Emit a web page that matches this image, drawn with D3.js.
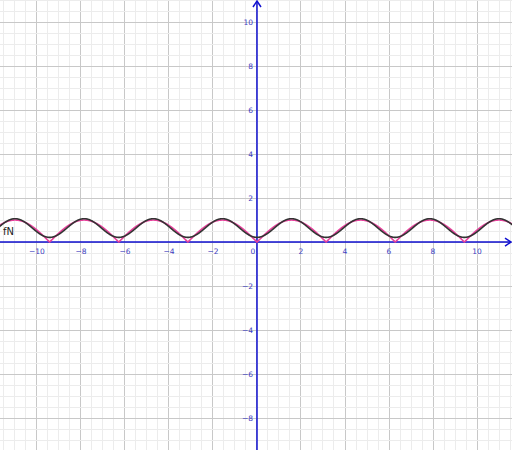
<!DOCTYPE html><html><head><script src="https://d3js.org/d3.v7.min.js"></script>
<style>body{margin:0;background:#fff}</style></head><body><svg id="c" width="512" height="450"></svg>
<script>
// Fourier partial sum fN of |sin x|: a0 + sum a_k cos(2k x)
const a0 = [0.63662];
const cosCoeffs = [-0.42441];
const xTicks = [-10,-8,-6,-4,-2,0,2,4,6,8,10];
const yTicks = [-8,-6,-4,-2,2,4,6,8,10];
const curveLabel = "fN";

const W=512,H=450;
const x=d3.scaleLinear().domain([-11.68,11.59]).range([0,W]);
const y=d3.scaleLinear().domain([11,-9.45]).range([0,H]);
const svg=d3.select("#c");
const g=svg.append("g");
for(let v=-12;v<=12;v+=0.5){const maj=Math.abs(v%2)<1e-9;
 g.append("line").attr("x1",x(v)).attr("x2",x(v)).attr("y1",0).attr("y2",H).attr("stroke",maj?"#c8c8c8":"#ececec").attr("stroke-width",1).attr("shape-rendering","crispEdges");}
for(let v=-10;v<=11.5;v+=0.5){const maj=Math.abs(v%2)<1e-9;
 g.append("line").attr("y1",y(v)).attr("y2",y(v)).attr("x1",0).attr("x2",W).attr("stroke",maj?"#c8c8c8":"#ececec").attr("stroke-width",1).attr("shape-rendering","crispEdges");}
const blue="#1010d0";
svg.append("line").attr("x1",0).attr("x2",W-2).attr("y1",y(0)).attr("y2",y(0)).attr("stroke",blue).attr("stroke-width",1.5);
svg.append("line").attr("x1",x(0)).attr("x2",x(0)).attr("y1",2).attr("y2",H).attr("stroke",blue).attr("stroke-width",1.5);
svg.append("path").attr("d",`M${W-7},${y(0)-4}L${W-1},${y(0)}L${W-7},${y(0)+4}`).attr("fill","none").attr("stroke",blue).attr("stroke-width",1.5);
svg.append("path").attr("d",`M${x(0)-4},7L${x(0)},1L${x(0)+4},7`).attr("fill","none").attr("stroke",blue).attr("stroke-width",1.5);
xTicks.forEach(t=>{svg.append("text").attr("x",x(t)+(t===0?-4:0)).attr("y",y(0)+12).attr("text-anchor","middle").attr("font-family","DejaVu Sans").attr("font-size",7.5).attr("fill","#4040c0").text(t<0?"\u2212"+(-t):t);});
yTicks.forEach(t=>{svg.append("text").attr("x",x(0)-4).attr("y",y(t)+3).attr("text-anchor","end").attr("font-family","DejaVu Sans").attr("font-size",7.5).attr("fill","#4040c0").text(t<0?"\u2212"+(-t):t);});
const xs=d3.range(-11.7,11.7,0.01);
const pink=d3.line().x(d=>x(d)).y(d=>y(Math.abs(Math.sin(d))));
svg.append("path").attr("d",pink(xs)).attr("fill","none").attr("stroke","#e8409c").attr("stroke-width",1.6);
const fN=v=>a0[0]+cosCoeffs.reduce((s,c,k)=>s+c*Math.cos(2*(k+1)*v),0);
svg.append("path").attr("d",d3.line().x(d=>x(d)).y(d=>y(fN(d)))(xs)).attr("fill","none").attr("stroke","#333").attr("stroke-width",1.6);
svg.append("text").attr("x",3).attr("y",235).attr("font-family","DejaVu Sans").attr("font-size",10).attr("fill","#222").text(curveLabel);
</script></body></html>
